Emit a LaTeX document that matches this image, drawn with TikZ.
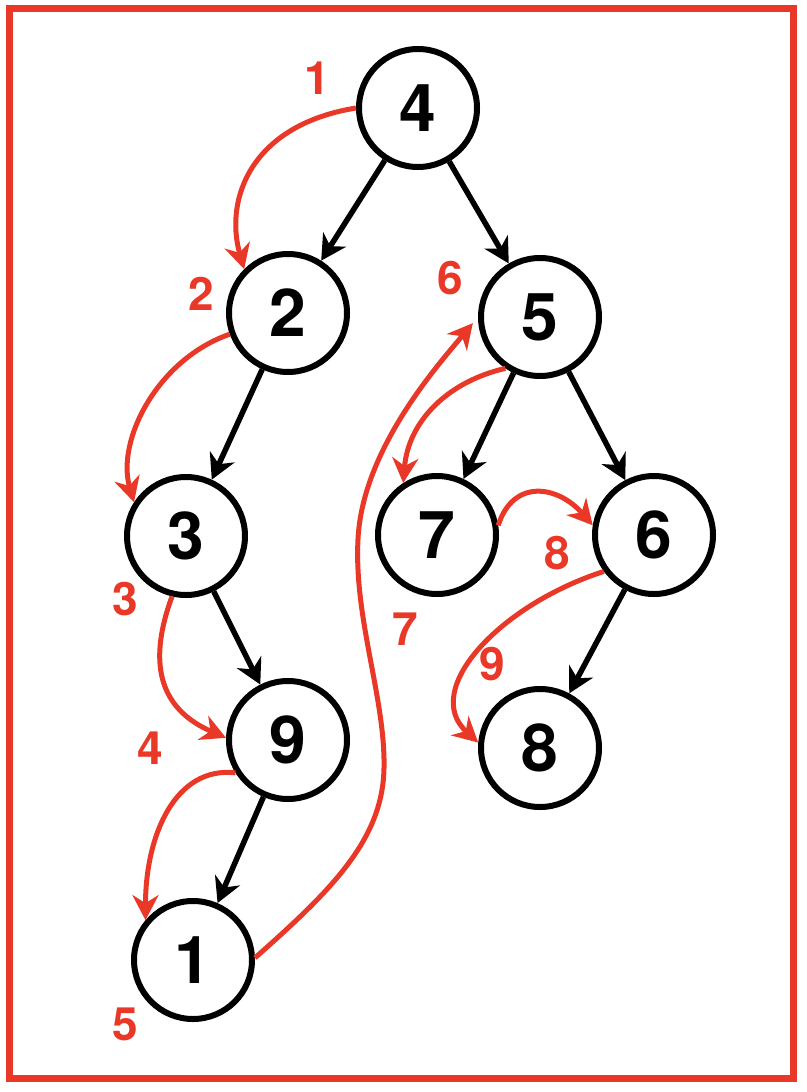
\documentclass[tikz,border=0pt]{standalone}
\usepackage{fontspec}
\setmainfont{TeX Gyre Heros}
\usetikzlibrary{arrows.meta}
\definecolor{tred}{RGB}{233,56,40}
\begin{document}
\begin{tikzpicture}[x=1pt,y=-1pt,
  vert/.style={circle,draw=black,line width=6pt,minimum size=118pt,inner sep=0pt,
    font=\fontsize{66}{66}\selectfont\bfseries},
  lbl/.style={text=tred,inner sep=0pt,font=\fontsize{46}{46}\selectfont\bfseries},
  blk/.style={draw=black,line width=5.5pt,-{Stealth[length=25pt,width=27pt,inset=8pt]}},
  trav/.style={draw=tred,line width=5pt,-{Stealth[length=25pt,width=26pt,inset=8pt]}}]
\useasboundingbox (0,0) rectangle (806,1092);
\draw[tred,line width=7pt] (9.5,8) rectangle (793,1078);
% vertices
\node[vert] (n4) at (418,108) {4};
\node[vert] (n2) at (288,313) {2};
\node[vert] (n5) at (540,317) {5};
\node[vert] (n3) at (186,536) {3};
\node[vert] (n7) at (437,535) {7};
\node[vert] (n6) at (654,535) {6};
\node[vert] (n9) at (288,740) {9};
\node[vert] (n8) at (540,748) {8};
\node[vert] (n1) at (193,960) {1};
% tree edges
\draw[blk] (n4) -- (n2);
\draw[blk] (n4) -- (n5);
\draw[blk] (n2) -- (n3);
\draw[blk] (n3) -- (n9);
\draw[blk] (n9) -- (n1);
\draw[blk] (n5) -- (n7);
\draw[blk] (n5) -- (n6);
\draw[blk] (n6) -- (n8);
% traversal
\draw[trav] (n4.180) .. controls +(-105,17) and +(-20,-70) .. (n2.135);
\draw[trav] (n2.200) .. controls +(-72,25) and +(-18,-62) .. (n3.147);
\draw[trav] (n3.257) .. controls +(-27,73) and +(-62,-27) .. (n9.178);
\draw[trav] (n9.212) .. controls +(-60,-7) and +(0,-85) .. (n1.140);
\draw[trav,shorten >=8pt] (n1.2) .. controls +(77,-68) and +(-2,70) .. ++(129,-188)
  coordinate (c7a)
  .. controls +(2,-70) and +(-4,80) .. ++(-26,-230) coordinate (c7b)
  .. controls +(4,-90) and +(-40,48) .. (n5.180);
\draw[trav] (n5.236) .. controls +(-57,13) and +(5,-62) .. (n7.123);
\draw[trav] (n7.9) .. controls +(15,-47) and +(-35,-40) .. (n6.171);
\draw[trav] (n6.216) .. controls +(-103,33) and +(-58,-53) .. (n8.175);
% labels
\node[lbl] (l1) at (317,78) {1};
\node[lbl] (l2) at (201,294) {2};
\node[lbl] (l3) at (125,599) {3};
\node[lbl] (l4) at (150,748) {4};
\node[lbl] (l5) at (125,1024) {5};
\node[lbl] (l6) at (450,278) {6};
\node[lbl] (l7) at (405,629) {7};
\node[lbl] (l8) at (557,553) {8};
\node[lbl] (l9) at (492,664) {9};
\end{tikzpicture}
\end{document}
